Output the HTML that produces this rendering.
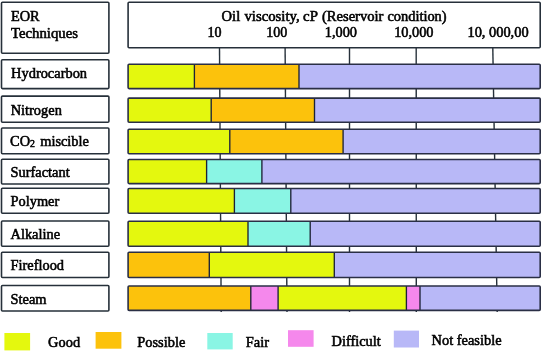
<!DOCTYPE html><html><head><meta charset="utf-8"><style>html,body{margin:0;padding:0;background:#fff;width:543px;height:352px;overflow:hidden}svg{display:block}text{font-family:"Liberation Serif","Times New Roman",serif;fill:#000;stroke:#000;stroke-width:0.55px}</style></head><body>
<svg width="543" height="352" viewBox="0 0 543 352">
<rect width="543" height="352" fill="#fff"/>
<line x1="219.5" y1="47.8" x2="221.2" y2="312.0" stroke="#26303a" stroke-width="1.4"/>
<line x1="285.1" y1="47.8" x2="287.0" y2="312.0" stroke="#26303a" stroke-width="1.4"/>
<line x1="349.5" y1="47.8" x2="349.5" y2="312.0" stroke="#26303a" stroke-width="1.4"/>
<line x1="416.2" y1="47.8" x2="416.3" y2="312.0" stroke="#26303a" stroke-width="1.4"/>
<line x1="492.8" y1="47.8" x2="497.2" y2="312.0" stroke="#26303a" stroke-width="1.4"/>
<rect x="1.5" y="2.3" width="107.4" height="50.9" rx="1" fill="#fff" stroke="#26303a" stroke-width="1.6"/>
<text x="10.9" y="20.8" font-size="14.4">EOR</text>
<text x="10.9" y="38.0" font-size="14.4" textLength="67.2" lengthAdjust="spacingAndGlyphs">Techniques</text>
<rect x="128.1" y="2.3" width="412.1" height="45.5" rx="1" fill="#fff" stroke="#26303a" stroke-width="1.6"/>
<text x="221.6" y="20.9" font-size="13.6" textLength="18.6" lengthAdjust="spacingAndGlyphs">Oil</text>
<text x="244.4" y="20.9" font-size="13.6" textLength="55.3" lengthAdjust="spacingAndGlyphs">viscosity,</text>
<text x="303.1" y="20.9" font-size="13.6" textLength="14.8" lengthAdjust="spacingAndGlyphs">cP</text>
<text x="321.9" y="20.9" font-size="13.6" textLength="61.6" lengthAdjust="spacingAndGlyphs">(Reservoir</text>
<text x="387.4" y="20.9" font-size="13.6" textLength="59.25" lengthAdjust="spacingAndGlyphs">condition)</text>
<text x="207.6" y="37.3" font-size="13.6" textLength="14.0" lengthAdjust="spacingAndGlyphs">10</text>
<text x="266.3" y="37.3" font-size="13.6" textLength="21.0" lengthAdjust="spacingAndGlyphs">100</text>
<text x="324.75" y="37.3" font-size="13.6" textLength="32.25" lengthAdjust="spacingAndGlyphs">1,000</text>
<text x="394.16" y="37.3" font-size="13.6" textLength="39.35" lengthAdjust="spacingAndGlyphs">10,000</text>
<text x="467.45" y="37.3" font-size="13.6" textLength="61.15" lengthAdjust="spacingAndGlyphs">10, 000,00</text>
<rect x="1.5" y="59.7" width="107.4" height="28.9" rx="1" fill="#fff" stroke="#26303a" stroke-width="1.6"/>
<text x="11.1" y="77.7" font-size="14.4">Hydrocarbon</text>
<rect x="1.5" y="96.1" width="107.4" height="26.1" rx="1" fill="#fff" stroke="#26303a" stroke-width="1.6"/>
<text x="10.7" y="114.7" font-size="14.4">Nitrogen</text>
<rect x="1.5" y="128.0" width="107.4" height="25.7" rx="1" fill="#fff" stroke="#26303a" stroke-width="1.6"/>
<text x="10.1" y="146.3" font-size="14.4">CO<tspan font-size="9.8" dy="0.8">2</tspan><tspan dy="-0.8" dx="1.6"> miscible</tspan></text>
<rect x="1.5" y="159.3" width="107.4" height="24.7" rx="1" fill="#fff" stroke="#26303a" stroke-width="1.6"/>
<text x="10.5" y="177.3" font-size="14.4">Surfactant</text>
<rect x="1.5" y="188.3" width="107.4" height="25.0" rx="1" fill="#fff" stroke="#26303a" stroke-width="1.6"/>
<text x="10.5" y="206.3" font-size="14.4">Polymer</text>
<rect x="1.5" y="221.0" width="107.4" height="25.3" rx="1" fill="#fff" stroke="#26303a" stroke-width="1.6"/>
<text x="10.5" y="239.3" font-size="14.4">Alkaline</text>
<rect x="1.5" y="252.3" width="107.4" height="25.2" rx="1" fill="#fff" stroke="#26303a" stroke-width="1.6"/>
<text x="10.5" y="269.9" font-size="14.4">Fireflood</text>
<rect x="1.5" y="285.5" width="107.4" height="25.5" rx="1" fill="#fff" stroke="#26303a" stroke-width="1.6"/>
<text x="10.5" y="304.1" font-size="14.4">Steam</text>
<rect x="128.1" y="64.3" width="66.3" height="24.3" fill="#e4f80e"/>
<rect x="194.4" y="64.3" width="104.6" height="24.3" fill="#fcc20c"/>
<rect x="299.0" y="64.3" width="241.2" height="24.3" fill="#b8b8f7"/>
<line x1="194.4" y1="64.3" x2="194.4" y2="88.6" stroke="#1c2236" stroke-width="1.35"/>
<line x1="299.0" y1="64.3" x2="299.0" y2="88.6" stroke="#1c2236" stroke-width="1.35"/>
<rect x="128.1" y="64.3" width="412.1" height="24.3" rx="1" fill="none" stroke="#2a2f45" stroke-width="1.6"/>
<rect x="128.1" y="98.1" width="83.1" height="24.1" fill="#e4f80e"/>
<rect x="211.2" y="98.1" width="103.3" height="24.1" fill="#fcc20c"/>
<rect x="314.5" y="98.1" width="225.7" height="24.1" fill="#b8b8f7"/>
<line x1="211.2" y1="98.1" x2="211.2" y2="122.2" stroke="#1c2236" stroke-width="1.35"/>
<line x1="314.5" y1="98.1" x2="314.5" y2="122.2" stroke="#1c2236" stroke-width="1.35"/>
<rect x="128.1" y="98.1" width="412.1" height="24.1" rx="1" fill="none" stroke="#2a2f45" stroke-width="1.6"/>
<rect x="128.1" y="129.2" width="101.7" height="24.5" fill="#e4f80e"/>
<rect x="229.8" y="129.2" width="113.3" height="24.5" fill="#fcc20c"/>
<rect x="343.1" y="129.2" width="197.1" height="24.5" fill="#b8b8f7"/>
<line x1="229.8" y1="129.2" x2="229.8" y2="153.7" stroke="#1c2236" stroke-width="1.35"/>
<line x1="343.1" y1="129.2" x2="343.1" y2="153.7" stroke="#1c2236" stroke-width="1.35"/>
<rect x="128.1" y="129.2" width="412.1" height="24.5" rx="1" fill="none" stroke="#2a2f45" stroke-width="1.6"/>
<rect x="128.1" y="159.5" width="78.5" height="24.1" fill="#e4f80e"/>
<rect x="206.6" y="159.5" width="55.3" height="24.1" fill="#8af5e4"/>
<rect x="261.9" y="159.5" width="278.3" height="24.1" fill="#b8b8f7"/>
<line x1="206.6" y1="159.5" x2="206.6" y2="183.6" stroke="#1c2236" stroke-width="1.35"/>
<line x1="261.9" y1="159.5" x2="261.9" y2="183.6" stroke="#1c2236" stroke-width="1.35"/>
<rect x="128.1" y="159.5" width="412.1" height="24.1" rx="1" fill="none" stroke="#2a2f45" stroke-width="1.6"/>
<rect x="128.1" y="188.5" width="106.3" height="24.8" fill="#e4f80e"/>
<rect x="234.4" y="188.5" width="56.4" height="24.8" fill="#8af5e4"/>
<rect x="290.8" y="188.5" width="249.4" height="24.8" fill="#b8b8f7"/>
<line x1="234.4" y1="188.5" x2="234.4" y2="213.3" stroke="#1c2236" stroke-width="1.35"/>
<line x1="290.8" y1="188.5" x2="290.8" y2="213.3" stroke="#1c2236" stroke-width="1.35"/>
<rect x="128.1" y="188.5" width="412.1" height="24.8" rx="1" fill="none" stroke="#2a2f45" stroke-width="1.6"/>
<rect x="128.1" y="221.2" width="119.9" height="25.1" fill="#e4f80e"/>
<rect x="248.0" y="221.2" width="62.2" height="25.1" fill="#8af5e4"/>
<rect x="310.2" y="221.2" width="230.0" height="25.1" fill="#b8b8f7"/>
<line x1="248.0" y1="221.2" x2="248.0" y2="246.3" stroke="#1c2236" stroke-width="1.35"/>
<line x1="310.2" y1="221.2" x2="310.2" y2="246.3" stroke="#1c2236" stroke-width="1.35"/>
<rect x="128.1" y="221.2" width="412.1" height="25.1" rx="1" fill="none" stroke="#2a2f45" stroke-width="1.6"/>
<rect x="128.1" y="252.3" width="81.2" height="25.2" fill="#fcc20c"/>
<rect x="209.3" y="252.3" width="125.0" height="25.2" fill="#e4f80e"/>
<rect x="334.3" y="252.3" width="205.9" height="25.2" fill="#b8b8f7"/>
<line x1="209.3" y1="252.3" x2="209.3" y2="277.5" stroke="#1c2236" stroke-width="1.35"/>
<line x1="334.3" y1="252.3" x2="334.3" y2="277.5" stroke="#1c2236" stroke-width="1.35"/>
<rect x="128.1" y="252.3" width="412.1" height="25.2" rx="1" fill="none" stroke="#2a2f45" stroke-width="1.6"/>
<rect x="128.1" y="286.0" width="122.7" height="24.4" fill="#fcc20c"/>
<rect x="250.8" y="286.0" width="27.3" height="24.4" fill="#f588ec"/>
<rect x="278.1" y="286.0" width="128.3" height="24.4" fill="#e4f80e"/>
<rect x="406.4" y="286.0" width="13.6" height="24.4" fill="#f588ec"/>
<rect x="420.0" y="286.0" width="120.2" height="24.4" fill="#b8b8f7"/>
<line x1="250.8" y1="286.0" x2="250.8" y2="310.4" stroke="#1c2236" stroke-width="1.35"/>
<line x1="278.1" y1="286.0" x2="278.1" y2="310.4" stroke="#1c2236" stroke-width="1.35"/>
<line x1="406.4" y1="286.0" x2="406.4" y2="310.4" stroke="#1c2236" stroke-width="1.35"/>
<line x1="420.0" y1="286.0" x2="420.0" y2="310.4" stroke="#1c2236" stroke-width="1.35"/>
<rect x="128.1" y="286.0" width="412.1" height="24.4" rx="1" fill="none" stroke="#2a2f45" stroke-width="1.6"/>
<rect x="4.4" y="333.0" width="25.7" height="17.4" fill="#e4f80e"/>
<text x="48.1" y="346.9" font-size="14.4">Good</text>
<rect x="95.6" y="332.0" width="25.8" height="16.7" fill="#fcc20c"/>
<text x="137.3" y="346.6" font-size="14.4">Possible</text>
<rect x="207.3" y="333.0" width="25.4" height="16.4" fill="#8af5e4"/>
<text x="245.8" y="346.6" font-size="14.4">Fair</text>
<rect x="288.0" y="330.2" width="25.6" height="16.6" fill="#f588ec"/>
<text x="331.5" y="345.9" font-size="14.4">Difficult</text>
<rect x="393.8" y="330.6" width="25.2" height="16.9" fill="#b8b8f7"/>
<text x="431.6" y="344.8" font-size="14.4">Not feasible</text>
</svg></body></html>
